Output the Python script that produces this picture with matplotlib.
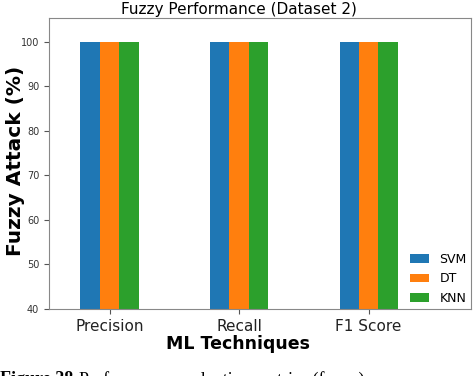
import numpy as np
import matplotlib
matplotlib.use('Agg')
import matplotlib.pyplot as plt

metrics = ['Precision', 'Recall', 'F1 Score']
svm = [100, 100, 100]
dt = [100, 100, 100]
knn = [100, 100, 100]
yticks = [40, 50, 60, 70, 80, 90, 100]

fig = plt.figure(figsize=(4.74, 3.76), dpi=100)
ax = fig.add_axes([49 / 474, 67 / 376, 422 / 474, 291 / 376])

x = np.arange(len(metrics))
w = 0.15
ax.bar(x - w, svm, w, color='#1f77b4', label='SVM')
ax.bar(x, dt, w, color='#ff7f0e', label='DT')
ax.bar(x + w, knn, w, color='#2ca02c', label='KNN')

ax.set_xlim(-0.468, 2.79)
ax.set_ylim(40, 105.3)
ax.set_xticks(x)
ax.set_xticklabels(metrics, fontsize=11)
ax.set_yticks(yticks)
ax.tick_params(axis='y', labelsize=7, labelcolor='#333333', colors='#555555')
ax.tick_params(axis='x', colors='#555555', labelcolor='#222222')
for s in ax.spines.values():
    s.set_color('#888888')

ax.set_title('Fuzzy Performance (Dataset 2)', fontsize=11, x=0.449, pad=3)
ax.set_xlabel('ML Techniques', fontsize=12.5, fontweight='bold')
ax.xaxis.set_label_coords(0.449, -0.088)
ax.set_ylabel('Fuzzy Attack (%)', fontsize=14.5, fontweight='bold')
ax.yaxis.set_label_coords(-0.057, 0.51)

ax.legend(loc='lower right', frameon=False, fontsize=9, handlelength=1.5,
          handletextpad=0.85, labelspacing=0.5, borderaxespad=0, borderpad=0.35)

# caption of the source figure, cut at the bottom edge
fig.text(0.0, 5 / 376, 'Figure 28.', fontsize=13, fontweight='bold',
         family='Liberation Serif', va='top', ha='left')
fig.text(79 / 474, 5 / 376, 'Performance evaluation metrics (fuzzy)', fontsize=13,
         family='Liberation Serif', va='top', ha='left')

fig.savefig('out.png', dpi=100)
